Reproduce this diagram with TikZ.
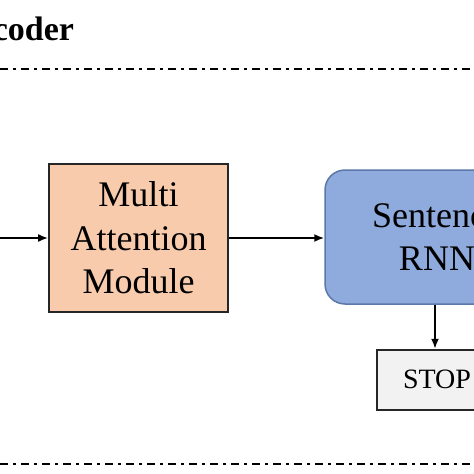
\documentclass[tikz,border=0pt]{standalone}
\usepackage{fontspec}
\setmainfont{Liberation Serif}
\usetikzlibrary{arrows.meta,positioning}

\begin{document}
\begin{tikzpicture}[x=1pt,y=-1pt]
%
\useasboundingbox (0,0) rectangle (474,474);
%
\definecolor{cfmam}{rgb}{0.973,0.796,0.678}
\definecolor{cfrnn}{rgb}{0.561,0.667,0.863}
\definecolor{cdrnn}{rgb}{0.357,0.471,0.659}
\definecolor{cfstop}{rgb}{0.949,0.949,0.949}
%
\tikzset{
  blk/.style={draw=black!85,line width=1.8pt,inner sep=0pt,align=center,font=\fontsize{36}{43.5}\selectfont},
  sepline/.style={line width=2pt,dash pattern=on 8pt off 5pt on 3pt off 5pt},
  flow/.style={line width=1.8pt,-{Latex[length=10pt,width=8pt]}}
}
%
\node[anchor=base west,inner sep=0pt,font=\fontsize{34}{40}\selectfont\bfseries] (title) at (-47,40) {Decoder};
\draw[sepline] (0,69) -- (470,69);
\draw[sepline] (0,464) -- (474,464);
%
\node[blk,fill=cfmam,minimum width=179pt,minimum height=148pt] (mam) at (138.5,238) {Multi\\Attention\\Module};
\node[blk,draw=cdrnn,line width=1.5pt,fill=cfrnn,rounded corners=20pt,minimum width=224pt,minimum height=134pt] (rnn) at (437,237) {Sentence\\RNN};
\node[blk,fill=cfstop,minimum width=120pt,minimum height=60pt,font=\fontsize{28}{34}\selectfont,below=44pt of rnn] (stop) {STOP};
%
\coordinate (in) at (-5,238);
\draw[flow] (in) -- (mam);
\draw[flow] (mam.east) -- (mam.east -| rnn.west);
\draw[flow] (rnn.south -| 435,0) -- (stop.north -| 435,0);
%
\end{tikzpicture}
\end{document}
